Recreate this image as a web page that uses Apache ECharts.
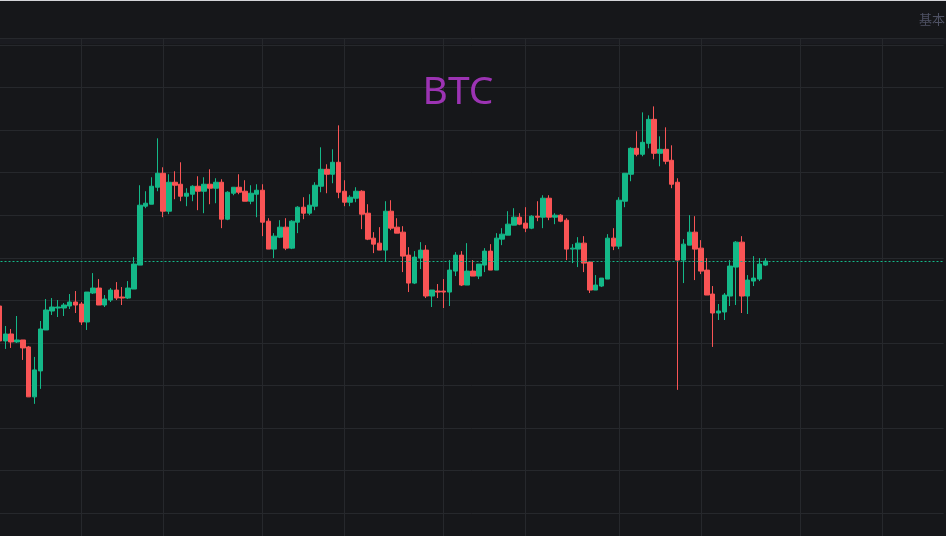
<!DOCTYPE html>
<html>
<head>
<meta charset="utf-8">
<script src="https://cdn.jsdelivr.net/npm/echarts@6/dist/echarts.min.js"></script>
<style>
  html, body { margin: 0; padding: 0; background: #16171a; }
  #chart { width: 946px; height: 536px; }
</style>
</head>
<body>
<div id="chart"></div>
<script>
// ---- data (BTC daily candles) ----
const startDate = '2024-06-17';
const slotCount = 162; // visible day slots on the x axis

const openPrices = [
  29300,25800,26500,25700,25900,25200,20200,22800,26900,28800,
  29100,29100,29300,29700,29500,27700,30600,31100,29400,29900,
  30900,30200,30100,31000,33400,39300,39500,41200,42600,38800,
  41700,41500,40300,40500,41300,40800,41500,41100,41700,38000,
  40600,41200,40800,39800,40500,40900,37800,35000,36200,37200,
  35100,37700,39200,38600,39300,41300,43000,42500,43700,40800,
  39700,40100,40800,38600,36100,35600,34900,38800,37200,36700,
  34400,31600,34100,34900,30300,30800,30800,30700,32800,34400,
  31400,32800,32300,33400,34800,32900,36000,36400,37400,38200,
  37600,37100,38300,38200,40100,38200,38400,37900,35000,35000,
  35600,33700,30900,31300,32000,36100,35300,39800,42500,45100,
  44500,45600,48000,44600,45000,43900,41700,33900,35400,36700,
  35100,32900,30500,28600,28700,30300,33200,35700,30300,31800,
  32000,33400
];
const closePrices = [
  25800,26500,25700,25900,25100,20200,22900,27000,28900,29200,
  29200,29400,29700,29400,27700,30700,31100,29400,30000,30900,
  30100,30100,31100,33500,39400,39600,41300,42600,38800,41700,
  41400,40300,40600,41300,40800,41500,41100,41700,38000,40700,
  41200,40700,39800,40600,40900,37700,35000,36300,37200,35100,
  37800,39200,38600,39400,41400,43000,42500,43700,40700,39700,
  40200,40800,38500,36000,35500,34900,38800,37100,36600,34300,
  31600,34200,34900,30300,30900,30700,30700,32900,34400,31400,
  32800,32300,33500,34800,32900,36100,36500,37500,38200,37500,
  37100,38300,38200,40100,38200,38400,37800,35000,35100,35600,
  33600,30900,31400,32100,36100,35300,39900,42600,45100,44500,
  45700,48000,44600,45000,43800,41500,33900,35500,36700,35000,
  32800,30400,28600,28800,30400,33300,35700,30300,31900,32100,
  33500,33800
];
const lowPrices = [
  25500,25000,25100,25600,23900,20200,19500,21000,26900,28400,
  28200,28300,29000,28600,27400,26900,30500,29400,29200,29700,
  29900,29400,30000,31000,33400,39100,39500,40800,38200,38500,
  40000,39800,39300,39800,38900,38600,39500,39600,37100,37900,
  40400,40500,39800,39500,38200,36300,35000,34100,36100,34900,
  35000,36600,38000,38400,38900,40700,40600,41600,40100,39300,
  39300,39700,37000,35900,34600,34900,33800,36900,36600,32700,
  30700,31500,33000,30100,29200,30100,29100,29300,32300,31300,
  31400,32300,32000,32700,32900,32900,35400,36400,37400,37400,
  36700,37000,37800,37100,37900,37500,37700,33900,33600,33200,
  32700,30600,30900,31200,32000,34900,35000,39200,41800,44300,
  44300,45100,44000,43300,43500,41100,20900,31600,35400,31900,
  32500,30400,25200,27900,27900,29300,29400,28600,28500,31300,
  31800,33300
];
const highPrices = [
  29500,27300,27000,28300,25900,25300,24200,27800,30000,30100,
  29900,29600,30500,30800,29700,30700,32600,32000,30400,31100,
  31700,31200,31800,34200,41400,40800,42200,46100,43200,42500,
  42800,43700,41100,41400,42300,42200,43000,42100,42000,40800,
  41200,42500,41900,41400,41500,41500,38100,36600,37900,38100,
  37900,39300,40200,40500,41700,45200,43500,45000,47400,41900,
  40400,41200,40900,39500,36700,37200,39800,39900,38100,37300,
  35200,34800,35700,35400,30900,31500,32000,33900,34700,34800,
  35600,33900,33500,35100,35500,36600,37100,38800,39100,38600,
  39200,38400,39800,40400,40400,38600,38500,38100,35500,36200,
  36300,33700,32400,32100,36500,37100,40200,42600,45200,46800,
  48700,48400,49300,46300,47200,45400,42100,36000,38400,38300,
  35900,34100,31300,29500,30600,33900,35800,36300,32400,34300,
  34100,34100
];

// ---- build categories (one per day) ----
const categories = [];
{
  const d0 = new Date(startDate + 'T00:00:00Z');
  for (let i = 0; i < slotCount; i++) {
    const d = new Date(d0.getTime() + i * 86400000);
    categories.push(d.toISOString().slice(0, 10));
  }
}
const candleData = openPrices.map((o, i) => [o, closePrices[i], lowPrices[i], highPrices[i]]);
const lastClose = closePrices[closePrices.length - 1];

const UP = '#14b888';
const DOWN = '#f95455';
const GRIDLINE = '#26282c';

const chart = echarts.init(document.getElementById('chart'), null, { renderer: 'canvas' });
chart.setOption({
  backgroundColor: '#16171a',
  animation: false,
  grid: { left: -3.47, right: 2.42, top: 38.5, bottom: -62.5, containLabel: false, outerBoundsMode: 'none' },
  xAxis: {
    type: 'category',
    data: categories,
    boundaryGap: true,
    axisLine: { show: false },
    axisTick: { show: false },
    axisLabel: { show: false },
    splitLine: {
      show: true,
      alignWithLabel: true,
      interval: (idx, val) => val.endsWith('-01') || val.endsWith('-15'),
      lineStyle: { color: GRIDLINE, width: 1 }
    }
  },
  yAxis: {
    type: 'value',
    min: 0,
    max: 56100,
    interval: 12800 / 3,
    axisLine: { show: false },
    axisTick: { show: false },
    axisLabel: { show: false },
    splitLine: { show: true, lineStyle: { color: GRIDLINE, width: 1 } }
  },
  series: [{
    type: 'candlestick',
    name: 'BTC',
    data: candleData,
    barWidth: 5,
    itemStyle: {
      color: UP, color0: DOWN,
      borderColor: UP, borderColor0: DOWN,
      borderWidth: 1
    },
    markLine: {
      silent: true,
      symbol: ['none', 'none'],
      label: { show: false },
      lineStyle: { color: UP, type: [2, 2], width: 1 },
      data: [{ yAxis: lastClose }]
    }
  }],
  graphic: [
    { type: 'rect', z: 10, shape: { x: 0, y: 0, width: 946, height: 38 }, style: { fill: '#16171a' } },
    { type: 'rect', z: 10, shape: { x: 0, y: 0, width: 946, height: 1 }, style: { fill: '#d4d4d8' } },
    { type: 'rect', z: -1, shape: { x: 0, y: 38, width: 946, height: 6 }, style: { fill: '#1a1b20' } },
    { type: 'text', z: 11, style: { text: '基本', x: 945, y: 19, align: 'right', verticalAlign: 'middle', fontSize: 13, fontFamily: 'Noto Sans CJK SC', fill: '#4e5163' } },
    { type: 'text', z: 11, style: { text: 'BTC', x: 458, y: 93, align: 'center', verticalAlign: 'middle', fontSize: 39, fontFamily: 'Noto Sans', fill: '#9c33b3' } }
  ]
});
</script>
</body>
</html>
